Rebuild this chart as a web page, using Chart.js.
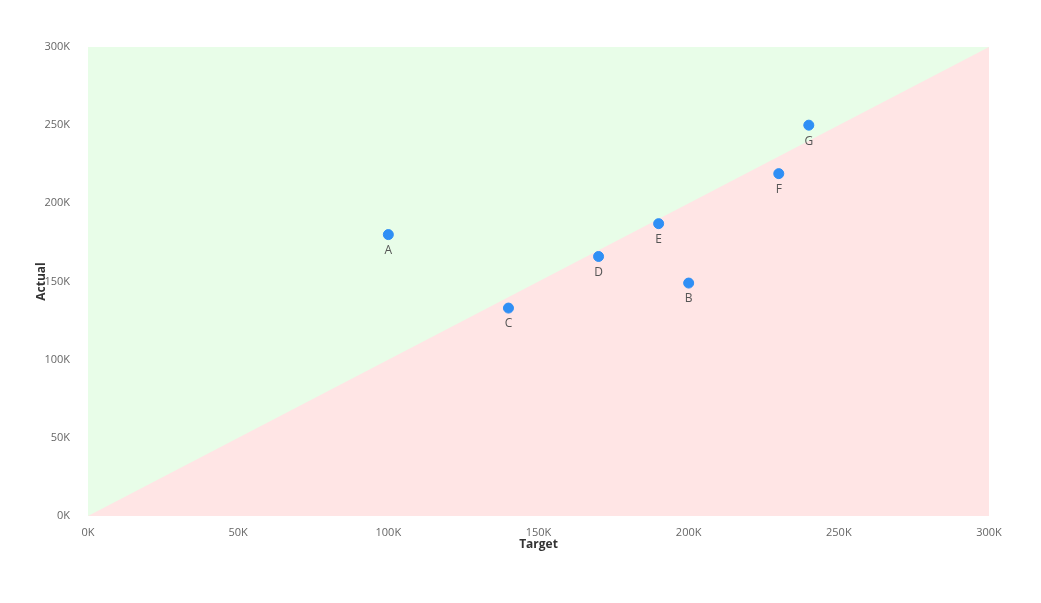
<!DOCTYPE html>
<html>
<head>
<meta charset="utf-8">
<script src="https://cdn.jsdelivr.net/npm/chart.js@4"></script>
<style>
  html, body { margin: 0; padding: 0; background: #fff; }
  #wrap { width: 1041px; height: 603px; }
</style>
</head>
<body>
<div id="wrap"><canvas id="chart"></canvas></div>
<script>
const names = ['A', 'B', 'C', 'D', 'E', 'F', 'G'];
const targets = [100000, 200000, 140000, 170000, 190000, 230000, 240000];
const actuals = [180000, 149000, 133000, 166000, 187000, 219000, 250000];
const axisMax = 300000;

const points = names.map((n, i) => ({ x: targets[i], y: actuals[i], name: n }));

// draw letter under each point
const pointLabels = {
    id: 'pointLabels',
    afterDatasetsDraw(chart) {
        const ctx = chart.ctx;
        const meta = chart.getDatasetMeta(2);
        ctx.save();
        ctx.font = '12px "Open Sans", sans-serif';
        ctx.fillStyle = '#555';
        ctx.textAlign = 'center';
        ctx.textBaseline = 'middle';
        meta.data.forEach((el, i) => {
            ctx.fillText(points[i].name, el.x, el.y + 16);
        });
        ctx.restore();
    }
};

const fmt = v => `${v / 1000}K`;

new Chart(document.getElementById('chart'), {
    type: 'scatter',
    data: {
        datasets: [
            {
                type: 'line',
                data: [{ x: 0, y: axisMax }, { x: axisMax, y: axisMax }],
                borderWidth: 0,
                pointRadius: 0,
                fill: 'start',
                backgroundColor: '#e8fde8',
                order: 3
            },
            {
                type: 'line',
                data: [{ x: 0, y: 0 }, { x: axisMax, y: axisMax }],
                borderWidth: 0,
                pointRadius: 0,
                fill: 'start',
                backgroundColor: '#ffe5e5',
                order: 2
            },
            {
                data: points,
                backgroundColor: '#2f8ff5',
                borderColor: '#2f8ff5',
                pointRadius: 5,
                pointHoverRadius: 5,
                order: 1
            }
        ]
    },
    options: {
        responsive: true,
        maintainAspectRatio: false,
        animation: false,
        layout: { padding: { top: 47, right: 52, left: 30, bottom: 47 } },
        plugins: { legend: { display: false }, tooltip: { enabled: false } },
        scales: {
            x: {
                type: 'linear', min: 0, max: axisMax,
                grid: { display: false },
                border: { display: false },
                ticks: { stepSize: 50000, callback: fmt, color: '#666', font: { family: 'Open Sans', size: 11 }, padding: 2 },
                title: { display: true, text: 'Target', color: '#333', font: { family: 'Open Sans', size: 12, weight: 'bold' }, padding: { top: 2 } },
                afterFit(s) { s.height = 40; }
            },
            y: {
                type: 'linear', min: 0, max: axisMax,
                grid: { display: false },
                border: { display: false },
                ticks: { stepSize: 50000, callback: fmt, color: '#666', font: { family: 'Open Sans', size: 11 }, padding: 10 },
                title: { display: true, text: 'Actual', color: '#333', font: { family: 'Open Sans', size: 12, weight: 'bold' }, padding: { bottom: 8 } },
                afterFit(s) { s.width = 58; }
            }
        }
    },
    plugins: [pointLabels]
});
</script>
</body>
</html>
